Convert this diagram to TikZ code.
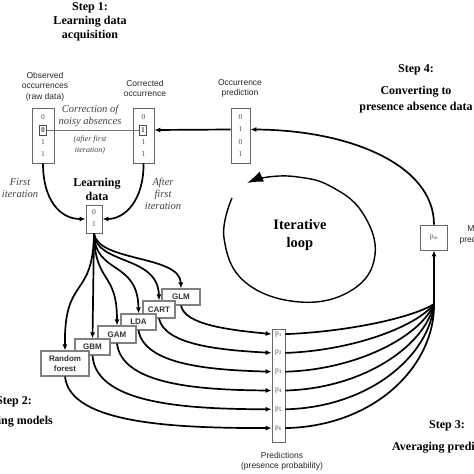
\documentclass[tikz,border=0pt]{standalone}
\usepackage{fontspec}
\setmainfont{Liberation Serif}
\setsansfont{Liberation Sans}
\usetikzlibrary{arrows.meta}
\usetikzlibrary{calc}

\begin{document}
\begin{tikzpicture}[x=1pt, y=-1pt,
    heading/.style={font=\bfseries\fontsize{12}{14}\selectfont, align=center, inner sep=0pt},
    caption/.style={font=\sffamily\fontsize{8.5}{10.5}\selectfont, align=center, text=black!85, inner sep=0pt},
    note/.style={font=\itshape\fontsize{10.5}{12}\selectfont, align=center, text=black!75, inner sep=0pt},
    databox/.style={draw=black!60, line width=0.8pt, inner sep=0pt},
    digit/.style={font=\fontsize{7.5}{9}\selectfont, text=black!70, inner sep=0pt},
    markbox/.style={draw=black!70, line width=0.8pt, minimum width=7.5pt, minimum height=10pt, font=\bfseries\fontsize{7.5}{9}\selectfont},
    model/.style={draw=black!50, line width=1.2pt, fill=white, font=\sffamily\bfseries\fontsize{8}{9.5}\selectfont, align=center, inner sep=0pt, text=black!80},
    conn/.style={line width=1.7pt, -{Latex[length=6pt,width=5pt]}}]
  \clip (0,0) rectangle (474,474);

  % step headings
  \node[heading] (step1) at (90,22) {Step 1:\\Learning data\\acquisition};
  \node[heading, anchor=east] (step2) at (32,402) {Step 2:};
  \node[heading, anchor=east] (train) at (53,422) {Training models};
  \node[heading] (step3) at (447,426) {Step 3:};
  \node[heading, anchor=west] (avg) at (392,448) {Averaging predictions};
  \node[heading] (step4) at (416,70) {Step 4:};
  \node[heading, font=\bfseries\fontsize{12}{16}\selectfont] (conv) at (416,100) {Converting to\\presence absence data};
  \node[heading] (learnlab) at (97,189) {Learning\\data};
  \node[heading, font=\bfseries\fontsize{14.5}{18}\selectfont] (looplab) at (300,235) {Iterative\\loop};

  % captions
  \node[caption] (obslab) at (45,86.5) {Observed\\occurrences\\(raw data)};
  \node[caption] (corlab) at (145,88.5) {Corrected\\occurrence};
  \node[caption] (predlab) at (240,88.5) {Occurrence\\prediction};
  \node[caption] (meanlab) at (478,235) {Mean\\prediction};
  \node[caption] (predslab) at (282,461.5) {Predictions\\(presence probability)};

  % italic notes
  \node[note] (corrnote) at (90,116) {Correction of\\noisy absences};
  \node[note, font=\itshape\fontsize{8}{11}\selectfont] (afternote) at (90,145) {(after first\\iteration)};
  \node[note] (firstnote) at (20,188) {First\\iteration};
  \node[note] (afterfirst) at (163,194) {After\\first\\iteration};

  % data boxes
  \node[databox, minimum width=22pt, minimum height=55pt] (obs) at (43,135.5) {};
  \node[databox, minimum width=21pt, minimum height=55pt] (cor) at (143.5,135.5) {};
  \node[databox, minimum width=19pt, minimum height=55pt] (pred) at (240.5,135.5) {};
  \node[databox, minimum width=16pt, minimum height=28pt] (learn) at (94,219) {};
  \node[databox, minimum width=13pt, minimum height=113pt] (preds) at (278.5,385.5) {};
  \node[databox, minimum width=27pt, minimum height=25pt] (pm) at (434,237.5) {};

  \foreach \d/\i in {0/1,1/3,1/4}
    \node[digit] (obs\i) at (43,104.5+12.5*\i) {\d};
  \node[digit, markbox] (obs2) at (43,130) {0};
  \foreach \d/\i in {0/1,1/3,1/4}
    \node[digit] (cor\i) at (143.5,104.5+12.5*\i) {\d};
  \node[digit, markbox] (cor2) at (143,130) {1};
  \foreach \d [count=\i] in {0,1,0,1}
    \node[digit] (pred\i) at (240.5,104.5+12.5*\i) {\d};
  \node[digit] (learn1) at (94,212) {0};
  \node[digit] (learn2) at (94,224) {1};
  \foreach \i in {1,...,6}
    \node[digit] (p\i) at (278.5,{315.3+18.8*\i}) {p\textsubscript{\i}};
  \node[digit] (pmtxt) at (pm) {p\textsubscript{m}};

  \draw[black!55, line width=0.6pt] (obs2) -- (cor2);

  % models
  \foreach \name/\txt/\x/\y/\w/\h in {glm/GLM/181/297/38/16, cart/CART/159/309.5/32/17,
      lda/LDA/138.5/322/35/16, gam/GAM/117/334.5/38/17, gbm/GBM/92.5/347/35/16,
      rf/{Random\\forest}/65/363.5/48/25}
    \node[model, minimum width=\w pt, minimum height=\h pt] (\name) at (\x,\y) {\txt};

  % learning data
  \draw[conn] (obs.south) .. controls (43,200) and (60,219) .. (learn.west);
  \draw[conn] (cor.south) .. controls (144,200) and (125,219) .. (learn.east);
  \draw[conn] (pred.west |- pred2) -- (cor.east |- cor2);

  % learning data to models
  \draw[conn] (learn.south) .. controls (98,262) and (180,255) .. (glm.north);
  \draw[conn] (learn.south) .. controls (96,265) and (158,255) .. (cart.north);
  \draw[conn] (learn.south) .. controls (95,275) and (138,260) .. (lda.north);
  \draw[conn] (learn.south) .. controls (95,285) and (117,270) .. (gam.north);
  \draw[conn] (learn.south) -- (gbm.north);
  \draw[conn] (learn.south) .. controls (93,300) and (64,275) .. (rf.north);

  % models to predictions
  \draw[conn] (glm.south) .. controls (185,325) and (230,330) .. (preds.west |- p1);
  \draw[conn] (cart.south) .. controls (165,345) and (220,350) .. (preds.west |- p2);
  \draw[conn] (lda.south) .. controls (145,365) and (210,370) .. (preds.west |- p3);
  \draw[conn] (gam.south) .. controls (122,385) and (200,390) .. (preds.west |- p4);
  \draw[conn] (gbm.south) .. controls (96,405) and (190,409) .. (preds.west |- p5);
  \draw[conn] (rf.south) .. controls (70,425) and (180,428) .. (preds.west |- p6);

  % averaging
  \coordinate (join) at (434,304);
  \foreach \i in {1,...,6}
    \draw[line width=1.7pt] (preds.east |- p\i) .. controls ({335+7*\i},{313.3+18.8*\i}) and ({405+5*\i},{310+9*\i}) .. (join);
  \draw[conn] (join) -- (pm.south);
  \draw[conn] (pm.north) .. controls (434,165) and (350,130) .. (pred.east |- pred2);

  % iterative loop
  \draw[line width=1.4pt, -{Latex[length=16pt,width=11pt]}] plot[smooth, tension=0.7] coordinates {(232,198) (224,238) (245,282) (300,302) (352,290) (375,255) (362,212) (330,186) (298,177) (268,177) (247,183)};
\end{tikzpicture}
\end{document}
